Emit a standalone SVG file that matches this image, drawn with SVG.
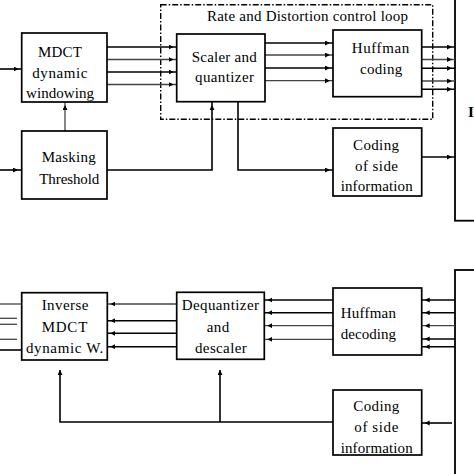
<svg xmlns="http://www.w3.org/2000/svg" width="474" height="474" viewBox="0 0 474 474">
<style>
.box{fill:#fff;stroke:#000;stroke-width:1.7}
.big{fill:#fff;stroke:#000;stroke-width:1.8}
.loop{fill:none;stroke:#000;stroke-width:1.4;stroke-dasharray:6 2 1.5 2}
.ln{fill:none;stroke:#000;stroke-width:1.6}
.lg{fill:none;stroke:#444;stroke-width:1.3}
text{font-family:"Liberation Serif","Times New Roman",serif;font-size:15px;fill:#000;text-anchor:start}
</style>
<defs>
<marker id="ah" markerUnits="userSpaceOnUse" markerWidth="10" markerHeight="8" refX="8" refY="2.5" orient="auto">
<path d="M0,0 L5,2.5 L0,5 Z" fill="#000"/>
</marker>
<marker id="at" markerUnits="userSpaceOnUse" markerWidth="10" markerHeight="8" refX="5" refY="2.5" orient="auto">
<path d="M0,0 L5,2.5 L0,5 Z" fill="#000"/>
</marker>
</defs>

<rect class="loop" x="160.7" y="4.7" width="272" height="114.6"/>
<text x="207" y="21" font-size="14" textLength="201">Rate and Distortion control loop</text>

<g id="bigTop"><rect class="big" x="455" y="-3" width="30" height="223.7"/><text x="468" y="117" font-weight="bold" font-size="15">I</text></g>
<g id="bigBottom"><rect class="big" x="455" y="270" width="30" height="210"/></g>

<g id="connectors">
<path class="ln" d="M0 69H21.7" marker-end="url(#ah)"/>
<path class="ln" d="M0 170H21" marker-end="url(#ah)"/>
<path class="lg" d="M65 131V102" marker-end="url(#ah)"/>
<path class="ln" d="M107 47H176.7" marker-end="url(#ah)"/>
<path class="lg" d="M107 59.5H176.7" marker-end="url(#ah)"/>
<path class="ln" d="M107 72H176.7" marker-end="url(#ah)"/>
<path class="lg" d="M107 84.5H176.7" marker-end="url(#ah)"/>
<path class="ln" d="M265 43H333" marker-end="url(#ah)"/>
<path class="lg" d="M265 55H333" marker-end="url(#ah)"/>
<path class="ln" d="M265 68H333" marker-end="url(#ah)"/>
<path class="lg" d="M265 80.7H333" marker-end="url(#ah)"/>
<path class="ln" d="M421.7 47H455" marker-end="url(#ah)"/>
<path class="lg" d="M421.7 59.5H455" marker-end="url(#ah)"/>
<path class="ln" d="M421.7 68.3H455" marker-end="url(#ah)"/>
<path class="lg" d="M421.7 81H455" marker-end="url(#ah)"/>
<path class="ln" d="M421.7 89.3H455" marker-end="url(#ah)"/>
<path class="ln" d="M107 170H212V102" marker-end="url(#ah)"/>
<path class="ln" d="M238 102V170H333" marker-end="url(#ah)"/>
<path class="ln" d="M421.7 157H455" marker-end="url(#ah)"/>

<path class="ln" d="M455 300H421.7" marker-end="url(#ah)"/>
<path class="ln" d="M455 312.7H421.7" marker-end="url(#ah)"/>
<path class="lg" d="M455 325.7H421.7" marker-end="url(#ah)"/>
<path class="ln" d="M455 339H421.7" marker-end="url(#ah)"/>
<path class="ln" d="M455 346.7H421.7" marker-end="url(#ah)"/>
<path class="ln" d="M333 300H264.3" marker-end="url(#ah)"/>
<path class="ln" d="M333 312.7H264.3" marker-end="url(#ah)"/>
<path class="lg" d="M333 325.7H264.3" marker-end="url(#ah)"/>
<path class="lg" d="M333 339.3H264.3" marker-end="url(#ah)"/>
<path class="lg" d="M177 304H107.3" marker-end="url(#ah)"/>
<path class="ln" d="M177 320.7H107.3" marker-end="url(#ah)"/>
<path class="ln" d="M177 333.3H107.3" marker-end="url(#ah)"/>
<path class="ln" d="M177 346.7H107.3" marker-end="url(#ah)"/>
<path class="lg" d="M21.7 304H0"/>
<path class="lg" d="M17 318.3H0"/>
<path class="lg" d="M17 324.3H0"/>
<path class="lg" d="M17 339.3H0"/>
<path class="ln" d="M21.7 350H0"/>
<path class="ln" d="M452 423H421.7" marker-end="url(#ah)"/>
<path class="ln" d="M333 422H60V370" marker-end="url(#at)"/>
<path class="ln" d="M220 422V370" marker-end="url(#at)"/>
</g>

<g id="mdct"><rect class="box" x="21.7" y="33" width="85.3" height="69"/>
<text x="38" y="57" textLength="44">MDCT</text>
<text x="32.3" y="77.5" textLength="55">dynamic</text>
<text x="26" y="97.5" textLength="68">windowing</text></g>

<g id="masking"><rect class="box" x="21.7" y="131" width="85.3" height="68"/>
<text x="41.7" y="161.5" textLength="54">Masking</text>
<text x="39.3" y="183.5" textLength="60">Threshold</text></g>

<g id="scaler"><rect class="box" x="176.7" y="34" width="88.3" height="67.7"/>
<text x="191.7" y="61.5" textLength="65">Scaler and</text>
<text x="195" y="82" textLength="59">quantizer</text></g>

<g id="huffman"><rect class="box" x="333" y="30" width="88.7" height="66.7"/>
<text x="351.7" y="53" textLength="57.6">Huffman</text>
<text x="360" y="73.5" textLength="42.3">coding</text></g>

<g id="sideinfo"><rect class="box" x="333" y="128" width="88.7" height="68"/>
<text x="353" y="149.5" textLength="46">Coding</text>
<text x="355" y="171" textLength="43">of side</text>
<text x="340.7" y="190.5" textLength="72">information</text></g>

<g id="inverse"><rect class="box" x="21.7" y="292.7" width="85.6" height="67.3"/>
<text x="41.7" y="309.5" textLength="46.6">Inverse</text>
<text x="41.7" y="331.5" textLength="45.6">MDCT</text>
<text x="26" y="352.5" textLength="77.3">dynamic W.</text></g>

<g id="dequant"><rect class="box" x="176.7" y="292.3" width="87.6" height="67"/>
<text x="181.7" y="309.5" textLength="77.3">Dequantizer</text>
<text x="206.7" y="331.5" textLength="22.6">and</text>
<text x="195" y="352.5" textLength="51.7">descaler</text></g>

<g id="huffdec"><rect class="box" x="333" y="288" width="88.7" height="67"/>
<text x="340.7" y="317.5" textLength="55.3">Huffman</text>
<text x="340.7" y="338.5" textLength="55.3">decoding</text></g>

<g id="sidedec"><rect class="box" x="333" y="390" width="88.7" height="65"/>
<text x="353.3" y="410.5" textLength="46">Coding</text>
<text x="354.3" y="431.5" textLength="44">of side</text>
<text x="340.7" y="453" textLength="72">information</text></g>
</svg>
